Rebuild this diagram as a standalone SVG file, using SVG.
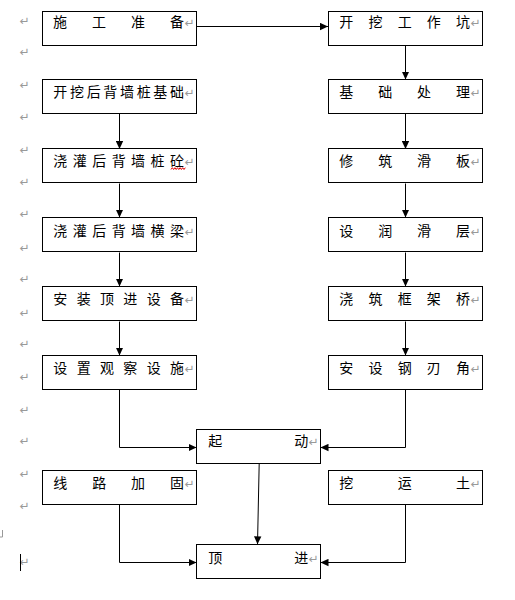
<svg xmlns="http://www.w3.org/2000/svg" width="515" height="600" viewBox="0 0 515 600">
<style>
.box{fill:#fff;stroke:#000;stroke-width:1}
.t{font-family:"Noto Sans CJK SC","Liberation Sans",sans-serif;font-size:14px;fill:#000}
.pm{font-family:"DejaVu Sans",sans-serif;font-size:12px;fill:#999}
.c{fill:none;stroke:#000;stroke-width:1}
</style>
<defs>
<marker id="ah" markerUnits="userSpaceOnUse" markerWidth="8" markerHeight="8" refX="8" refY="4" orient="auto">
<path d="M0,0.3 L8,4 L0,7.7 z" fill="#000"/>
</marker>
</defs>
<rect width="515" height="600" fill="#fff"/>

<g id="margin-marks" class="pm">
<text x="19.5" y="25">↵</text>
<text x="19.5" y="56">↵</text>
<text x="19.5" y="89">↵</text>
<text x="19.5" y="121">↵</text>
<text x="19.5" y="154">↵</text>
<text x="19.5" y="186">↵</text>
<text x="19.5" y="218">↵</text>
<text x="19.5" y="252">↵</text>
<text x="19.5" y="283">↵</text>
<text x="19.5" y="317">↵</text>
<text x="19.5" y="348">↵</text>
<text x="19.5" y="381">↵</text>
<text x="19.5" y="414">↵</text>
<text x="19.5" y="445">↵</text>
<text x="19.5" y="478">↵</text>
<text x="19.5" y="510">↵</text>
<text x="19.5" y="566">↵</text>
</g>
<path d="M2.5 530 V537 H0" fill="none" stroke="#999" stroke-width="1"/>
<line x1="20.5" y1="554" x2="20.5" y2="571" stroke="#000" stroke-width="1"/>

<g id="connectors">
<path class="c" d="M196.5 26.5 H328" marker-end="url(#ah)"/>
<path class="c" d="M119.5 114 V149" marker-end="url(#ah)"/>
<path class="c" d="M119.5 183.5 V217.5" marker-end="url(#ah)"/>
<path class="c" d="M119.5 252.5 V286.5" marker-end="url(#ah)"/>
<path class="c" d="M119.5 321.5 V355.5" marker-end="url(#ah)"/>
<path class="c" d="M405.5 45.5 V79.5" marker-end="url(#ah)"/>
<path class="c" d="M405.5 114 V149" marker-end="url(#ah)"/>
<path class="c" d="M405.5 183.5 V217.5" marker-end="url(#ah)"/>
<path class="c" d="M405.5 252.5 V286.5" marker-end="url(#ah)"/>
<path class="c" d="M405.5 321.5 V355.5" marker-end="url(#ah)"/>
<path class="c" d="M119.5 389.5 V447.5 H196.5" marker-end="url(#ah)"/>
<path class="c" d="M405.5 389.5 V447.5 H320.5" marker-end="url(#ah)"/>
<path class="c" d="M259.2 463.5 L257.5 544.3" stroke="#404040" marker-end="url(#ah)"/>
<path class="c" d="M119.5 504.5 V562.5 H196.5" marker-end="url(#ah)"/>
<path class="c" d="M405.5 504.5 V562.5 H320.5" marker-end="url(#ah)"/>
</g>

<g id="n-shigong-zhunbei">
<rect class="box" x="42.5" y="11.5" width="154" height="34"/>
<text class="t" x="53 92 131 170" y="27">施工准备</text>
<text class="pm" x="184.5" y="27">↵</text>
</g>
<g id="n-kaiwa-houbeiqiang-zhuangjichu">
<rect class="box" x="42.5" y="79.5" width="154" height="34"/>
<text class="t" x="53.3 70 86.7 103.3 120 136.7 153.3 170" y="96.5">开挖后背墙桩基础</text>
<text class="pm" x="184.5" y="96.5">↵</text>
</g>
<g id="n-jiaoguan-zhuangtong">
<rect class="box" x="42.5" y="148.5" width="154" height="34"/>
<text class="t" x="53.3 72.8 92.2 111.7 131.1 150.5 170" y="166">浇灌后背墙桩砼</text>
<text class="pm" x="184.5" y="166">↵</text>
<path d="M171 169.5 l1.3 -1.8 l1.3 1.8 l1.3 -1.8 l1.3 1.8 l1.3 -1.8 l1.3 1.8 l1.3 -1.8 l1.3 1.8 l1.3 -1.8 l1.3 1.8 l1.3 -1.8" fill="none" stroke="#e00000" stroke-width="1"/>
</g>
<g id="n-jiaoguan-hengliang">
<rect class="box" x="42.5" y="217.5" width="154" height="34"/>
<text class="t" x="53.3 72.8 92.2 111.7 131.1 150.5 170" y="236">浇灌后背墙横梁</text>
<text class="pm" x="184.5" y="236">↵</text>
</g>
<g id="n-anzhuang-dingjin-shebei">
<rect class="box" x="42.5" y="286.5" width="154" height="34"/>
<text class="t" x="53.3 76.7 100 123.3 146.7 170" y="304">安装顶进设备</text>
<text class="pm" x="184.5" y="304">↵</text>
</g>
<g id="n-shezhi-guancha-sheshi">
<rect class="box" x="42.5" y="355.5" width="154" height="34"/>
<text class="t" x="53.3 76.7 100 123.3 146.7 170" y="372.5">设置观察设施</text>
<text class="pm" x="184.5" y="372.5">↵</text>
</g>

<g id="n-kaiwa-gongzuokeng">
<rect class="box" x="328.5" y="11.5" width="154" height="34"/>
<text class="t" x="339.3 368.5 397.7 426.8 456" y="27">开挖工作坑</text>
<text class="pm" x="470.5" y="27">↵</text>
</g>
<g id="n-jichu-chuli">
<rect class="box" x="328.5" y="79.5" width="154" height="34"/>
<text class="t" x="339.3 378.2 417.1 456" y="96.5">基础处理</text>
<text class="pm" x="470.5" y="96.5">↵</text>
</g>
<g id="n-xiuzhu-huaban">
<rect class="box" x="328.5" y="148.5" width="154" height="34"/>
<text class="t" x="339.3 378.2 417.1 456" y="166">修筑滑板</text>
<text class="pm" x="470.5" y="166">↵</text>
</g>
<g id="n-she-runhuaceng">
<rect class="box" x="328.5" y="217.5" width="154" height="34"/>
<text class="t" x="339.3 378.2 417.1 456" y="236">设润滑层</text>
<text class="pm" x="470.5" y="236">↵</text>
</g>
<g id="n-jiaozhu-kuangjiaqiao">
<rect class="box" x="328.5" y="286.5" width="154" height="34"/>
<text class="t" x="339.3 368.5 397.7 426.8 456" y="304">浇筑框架桥</text>
<text class="pm" x="470.5" y="304">↵</text>
</g>
<g id="n-anshe-gangrenjiao">
<rect class="box" x="328.5" y="355.5" width="154" height="34"/>
<text class="t" x="339.3 368.5 397.7 426.8 456" y="372.5">安设钢刃角</text>
<text class="pm" x="470.5" y="372.5">↵</text>
</g>

<g id="n-qidong">
<rect class="box" x="196.5" y="429.5" width="124" height="34"/>
<text class="t" x="208.3 294.3" y="446.3">起动</text>
<text class="pm" x="308.5" y="446.3">↵</text>
</g>
<g id="n-xianlu-jiagu">
<rect class="box" x="42.5" y="470.5" width="154" height="34"/>
<text class="t" x="53.3 92.2 131.1 170" y="488">线路加固</text>
<text class="pm" x="184.5" y="488">↵</text>
</g>
<g id="n-wa-yuntu">
<rect class="box" x="328.5" y="470.5" width="154" height="34"/>
<text class="t" x="339.3 397.7 456" y="488">挖运土</text>
<text class="pm" x="470.5" y="488">↵</text>
</g>
<g id="n-dingjin">
<rect class="box" x="196.5" y="544.5" width="124" height="34"/>
<text class="t" x="208.3 294.3" y="563">顶进</text>
<text class="pm" x="308.5" y="563">↵</text>
</g>
</svg>
